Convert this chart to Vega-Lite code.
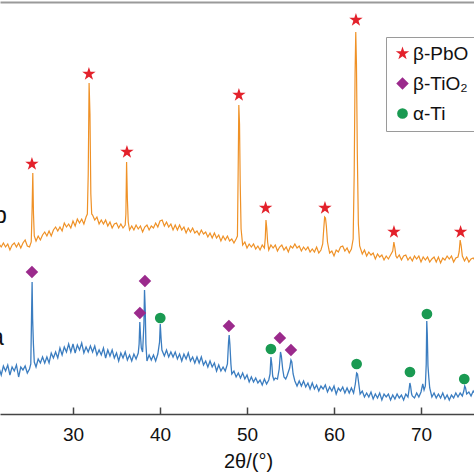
{
  "$schema": "https://vega.github.io/schema/vega-lite/v6.json",
  "width": 474,
  "height": 412,
  "autosize": "none",
  "padding": {"top": 2, "left": 0, "right": 0, "bottom": 60},
  "background": "white",
  "config": {
    "view": {"stroke": null},
    "font": "Liberation Sans",
    "text": {"font": "Liberation Sans"}
  },
  "datasets": {
    "curveB": [
      {"t":21.5,"i":170},{"t":21.75,"i":167},{"t":22.0,"i":171},{"t":22.25,"i":167},{"t":22.5,"i":170},{"t":22.75,"i":164},
      {"t":23.0,"i":169},{"t":23.25,"i":171},{"t":23.5,"i":167},{"t":23.75,"i":171},{"t":24.0,"i":166},{"t":24.25,"i":171},
      {"t":24.5,"i":174},{"t":24.75,"i":168},{"t":25.0,"i":167},{"t":25.2,"i":172},{"t":25.3,"i":205},{"t":25.38,"i":241},
      {"t":25.46,"i":200},{"t":25.55,"i":178},{"t":25.75,"i":173},{"t":26.0,"i":178},{"t":26.25,"i":174},{"t":26.5,"i":179},
      {"t":26.75,"i":182},{"t":27.0,"i":178},{"t":27.25,"i":183},{"t":27.5,"i":178},{"t":27.75,"i":184},{"t":28.0,"i":187},
      {"t":28.25,"i":183},{"t":28.5,"i":187},{"t":28.75,"i":183},{"t":29.0,"i":191},{"t":29.25,"i":187},{"t":29.5,"i":190},
      {"t":29.75,"i":186},{"t":30.0,"i":193},{"t":30.25,"i":188},{"t":30.5,"i":195},{"t":30.75,"i":191},{"t":31.0,"i":195},
      {"t":31.25,"i":190},{"t":31.5,"i":197},{"t":31.65,"i":200},{"t":31.75,"i":240},{"t":31.85,"i":331},{"t":31.95,"i":300},
      {"t":32.05,"i":220},{"t":32.15,"i":200},{"t":32.25,"i":199},{"t":32.5,"i":194},{"t":32.75,"i":197},{"t":33.0,"i":190},
      {"t":33.25,"i":194},{"t":33.5,"i":190},{"t":33.75,"i":194},{"t":34.0,"i":188},{"t":34.25,"i":192},{"t":34.5,"i":186},
      {"t":34.75,"i":190},{"t":35.0,"i":191},{"t":35.25,"i":186},{"t":35.5,"i":190},{"t":35.75,"i":186},{"t":36.0,"i":189},
      {"t":36.08,"i":200},{"t":36.16,"i":252},{"t":36.25,"i":215},{"t":36.35,"i":192},{"t":36.5,"i":184},{"t":36.75,"i":188},
      {"t":37.0,"i":184},{"t":37.25,"i":189},{"t":37.5,"i":185},{"t":37.75,"i":188},{"t":38.0,"i":182},{"t":38.25,"i":187},
      {"t":38.5,"i":189},{"t":38.75,"i":184},{"t":39.0,"i":188},{"t":39.25,"i":186},{"t":39.5,"i":191},{"t":39.75,"i":187},
      {"t":40.0,"i":193},{"t":40.25,"i":194},{"t":40.5,"i":188},{"t":40.75,"i":192},{"t":41.0,"i":187},{"t":41.25,"i":190},
      {"t":41.5,"i":184},{"t":41.75,"i":189},{"t":42.0,"i":184},{"t":42.25,"i":189},{"t":42.5,"i":184},{"t":42.75,"i":187},
      {"t":43.0,"i":181},{"t":43.25,"i":186},{"t":43.5,"i":182},{"t":43.75,"i":186},{"t":44.0,"i":181},{"t":44.25,"i":183},
      {"t":44.5,"i":179},{"t":44.75,"i":184},{"t":45.0,"i":180},{"t":45.25,"i":182},{"t":45.5,"i":177},{"t":45.75,"i":181},
      {"t":46.0,"i":176},{"t":46.25,"i":181},{"t":46.5,"i":176},{"t":46.75,"i":179},{"t":47.0,"i":173},{"t":47.25,"i":178},
      {"t":47.5,"i":174},{"t":47.75,"i":178},{"t":48.0,"i":173},{"t":48.25,"i":175},{"t":48.5,"i":171},{"t":48.75,"i":175},
      {"t":48.9,"i":178},{"t":48.98,"i":240},{"t":49.06,"i":309},{"t":49.14,"i":290},{"t":49.22,"i":230},{"t":49.32,"i":185},
      {"t":49.5,"i":169},{"t":49.75,"i":172},{"t":50.0,"i":166},{"t":50.25,"i":170},{"t":50.5,"i":167},{"t":50.75,"i":170},
      {"t":51.0,"i":165},{"t":51.25,"i":168},{"t":51.5,"i":164},{"t":51.75,"i":169},{"t":52.0,"i":166},{"t":52.1,"i":176},
      {"t":52.18,"i":194},{"t":52.27,"i":186},{"t":52.37,"i":172},{"t":52.5,"i":164},{"t":52.75,"i":169},{"t":53.0,"i":166},
      {"t":53.25,"i":169},{"t":53.5,"i":163},{"t":53.75,"i":167},{"t":54.0,"i":169},{"t":54.25,"i":164},{"t":54.5,"i":167},
      {"t":54.75,"i":162},{"t":55.0,"i":168},{"t":55.25,"i":166},{"t":55.5,"i":170},{"t":55.75,"i":166},{"t":56.0,"i":168},
      {"t":56.25,"i":163},{"t":56.5,"i":167},{"t":56.75,"i":164},{"t":57.0,"i":167},{"t":57.25,"i":162},{"t":57.5,"i":165},
      {"t":57.75,"i":162},{"t":58.0,"i":167},{"t":58.25,"i":161},{"t":58.5,"i":164},{"t":58.7,"i":170},{"t":58.82,"i":185},
      {"t":58.92,"i":197},{"t":59.02,"i":196},{"t":59.12,"i":188},{"t":59.25,"i":172},{"t":59.4,"i":165},{"t":59.5,"i":161},
      {"t":59.75,"i":163},{"t":60.0,"i":158},{"t":60.25,"i":164},{"t":60.5,"i":162},{"t":60.75,"i":167},{"t":61.0,"i":168},
      {"t":61.25,"i":163},{"t":61.5,"i":166},{"t":61.75,"i":161},{"t":62.0,"i":165},{"t":62.2,"i":175},{"t":62.32,"i":240},
      {"t":62.42,"i":340},{"t":62.5,"i":382},{"t":62.58,"i":350},{"t":62.68,"i":260},{"t":62.8,"i":190},{"t":62.95,"i":168},
      {"t":63.25,"i":160},{"t":63.5,"i":164},{"t":63.75,"i":158},{"t":64.0,"i":162},{"t":64.25,"i":159},{"t":64.5,"i":161},
      {"t":64.75,"i":155},{"t":65.0,"i":160},{"t":65.25,"i":157},{"t":65.5,"i":159},{"t":65.75,"i":154},{"t":66.0,"i":158},
      {"t":66.25,"i":155},{"t":66.5,"i":159},{"t":66.75,"i":163},{"t":66.88,"i":172},{"t":67.0,"i":166},{"t":67.12,"i":158},
      {"t":67.25,"i":156},{"t":67.5,"i":159},{"t":67.75,"i":154},{"t":68.0,"i":158},{"t":68.25,"i":159},{"t":68.5,"i":154},
      {"t":68.75,"i":157},{"t":69.0,"i":153},{"t":69.25,"i":158},{"t":69.5,"i":155},{"t":69.75,"i":158},{"t":70.0,"i":152},
      {"t":70.25,"i":157},{"t":70.5,"i":154},{"t":70.75,"i":157},{"t":71.0,"i":152},{"t":71.25,"i":155},{"t":71.5,"i":157},
      {"t":71.75,"i":152},{"t":72.0,"i":157},{"t":72.25,"i":151},{"t":72.5,"i":156},{"t":72.75,"i":154},{"t":73.0,"i":158},
      {"t":73.25,"i":155},{"t":73.5,"i":158},{"t":73.75,"i":152},{"t":74.0,"i":156},{"t":74.25,"i":157},{"t":74.38,"i":162},
      {"t":74.5,"i":174},{"t":74.62,"i":168},{"t":74.75,"i":158},{"t":75.0,"i":153},{"t":75.25,"i":157},{"t":75.5,"i":152},
      {"t":75.75,"i":155},{"t":76.0,"i":156},{"t":76.25,"i":153}
    ],
    "curveA": [
      {"t":21.5,"i":46},{"t":21.75,"i":39},{"t":22.0,"i":48},{"t":22.25,"i":43},{"t":22.5,"i":49},{"t":22.75,"i":39},
      {"t":23.0,"i":47},{"t":23.25,"i":43},{"t":23.5,"i":49},{"t":23.75,"i":37},{"t":24.0,"i":47},{"t":24.25,"i":44},
      {"t":24.5,"i":48},{"t":24.75,"i":41},{"t":25.0,"i":45},{"t":25.15,"i":50},{"t":25.24,"i":100},{"t":25.3,"i":132},
      {"t":25.36,"i":95},{"t":25.45,"i":70},{"t":25.55,"i":52},{"t":25.75,"i":47},{"t":26.0,"i":55},{"t":26.25,"i":51},
      {"t":26.5,"i":57},{"t":26.75,"i":51},{"t":27.0,"i":57},{"t":27.25,"i":51},{"t":27.5,"i":61},{"t":27.75,"i":56},
      {"t":28.0,"i":62},{"t":28.25,"i":56},{"t":28.5,"i":66},{"t":28.75,"i":59},{"t":29.0,"i":67},{"t":29.25,"i":62},
      {"t":29.5,"i":70},{"t":29.75,"i":62},{"t":30.0,"i":70},{"t":30.25,"i":61},{"t":30.5,"i":69},{"t":30.75,"i":64},
      {"t":31.0,"i":71},{"t":31.25,"i":61},{"t":31.5,"i":67},{"t":31.75,"i":62},{"t":32.0,"i":68},{"t":32.25,"i":62},
      {"t":32.5,"i":68},{"t":32.75,"i":59},{"t":33.0,"i":64},{"t":33.25,"i":59},{"t":33.5,"i":66},{"t":33.75,"i":56},
      {"t":34.0,"i":64},{"t":34.25,"i":58},{"t":34.5,"i":64},{"t":34.75,"i":56},{"t":35.0,"i":61},{"t":35.25,"i":53},
      {"t":35.5,"i":61},{"t":35.75,"i":56},{"t":36.0,"i":62},{"t":36.25,"i":54},{"t":36.5,"i":59},{"t":36.75,"i":53},
      {"t":37.0,"i":60},{"t":37.25,"i":55},{"t":37.5,"i":61},{"t":37.6,"i":70},{"t":37.68,"i":92},{"t":37.76,"i":78},
      {"t":37.85,"i":66},{"t":38.0,"i":62},{"t":38.15,"i":90},{"t":38.22,"i":124},{"t":38.3,"i":105},{"t":38.38,"i":70},
      {"t":38.5,"i":53},{"t":38.75,"i":59},{"t":39.0,"i":54},{"t":39.25,"i":59},{"t":39.5,"i":53},{"t":39.75,"i":60},
      {"t":39.95,"i":72},{"t":40.03,"i":90},{"t":40.12,"i":76},{"t":40.22,"i":64},{"t":40.5,"i":58},{"t":40.75,"i":64},
      {"t":41.0,"i":57},{"t":41.25,"i":62},{"t":41.5,"i":57},{"t":41.75,"i":62},{"t":42.0,"i":55},{"t":42.25,"i":60},
      {"t":42.5,"i":53},{"t":42.75,"i":60},{"t":43.0,"i":55},{"t":43.25,"i":61},{"t":43.5,"i":53},{"t":43.75,"i":57},
      {"t":44.0,"i":51},{"t":44.25,"i":57},{"t":44.5,"i":51},{"t":44.75,"i":57},{"t":45.0,"i":49},{"t":45.25,"i":53},
      {"t":45.5,"i":47},{"t":45.75,"i":53},{"t":46.0,"i":47},{"t":46.25,"i":51},{"t":46.5,"i":43},{"t":46.75,"i":49},
      {"t":47.0,"i":43},{"t":47.25,"i":47},{"t":47.5,"i":43},{"t":47.75,"i":50},{"t":47.88,"i":72},{"t":47.95,"i":79},
      {"t":48.03,"i":70},{"t":48.15,"i":50},{"t":48.25,"i":40},{"t":48.5,"i":43},{"t":48.75,"i":37},{"t":49.0,"i":41},
      {"t":49.25,"i":36},{"t":49.5,"i":41},{"t":49.75,"i":35},{"t":50.0,"i":39},{"t":50.25,"i":32},{"t":50.5,"i":37},
      {"t":50.75,"i":32},{"t":51.0,"i":36},{"t":51.25,"i":31},{"t":51.5,"i":34},{"t":51.75,"i":29},{"t":52.0,"i":35},
      {"t":52.25,"i":30},{"t":52.5,"i":34},{"t":52.65,"i":40},{"t":52.75,"i":57},{"t":52.85,"i":50},{"t":52.95,"i":38},
      {"t":53.1,"i":34},{"t":53.25,"i":36},{"t":53.5,"i":35},{"t":53.7,"i":45},{"t":53.85,"i":62},{"t":53.95,"i":58},
      {"t":54.1,"i":45},{"t":54.25,"i":37},{"t":54.45,"i":35},{"t":54.6,"i":38},{"t":54.9,"i":46},{"t":55.05,"i":54},
      {"t":55.15,"i":52},{"t":55.3,"i":40},{"t":55.5,"i":33},{"t":55.75,"i":28},{"t":56.0,"i":33},{"t":56.25,"i":28},
      {"t":56.5,"i":33},{"t":56.75,"i":27},{"t":57.0,"i":31},{"t":57.25,"i":25},{"t":57.5,"i":31},{"t":57.75,"i":25},
      {"t":58.0,"i":29},{"t":58.25,"i":23},{"t":58.5,"i":28},{"t":58.75,"i":25},{"t":59.0,"i":29},{"t":59.25,"i":22},
      {"t":59.5,"i":27},{"t":59.75,"i":23},{"t":60.0,"i":28},{"t":60.25,"i":20},{"t":60.5,"i":26},{"t":60.75,"i":23},
      {"t":61.0,"i":27},{"t":61.25,"i":21},{"t":61.5,"i":26},{"t":61.75,"i":21},{"t":62.0,"i":26},{"t":62.25,"i":21},
      {"t":62.45,"i":30},{"t":62.6,"i":41},{"t":62.7,"i":40},{"t":62.85,"i":30},{"t":63.0,"i":20},{"t":63.25,"i":23},
      {"t":63.5,"i":17},{"t":63.75,"i":21},{"t":64.0,"i":17},{"t":64.25,"i":22},{"t":64.5,"i":15},{"t":64.75,"i":20},
      {"t":65.0,"i":16},{"t":65.25,"i":21},{"t":65.5,"i":14},{"t":65.75,"i":20},{"t":66.0,"i":17},{"t":66.25,"i":20},
      {"t":66.5,"i":14},{"t":66.75,"i":19},{"t":67.0,"i":15},{"t":67.25,"i":20},{"t":67.5,"i":16},{"t":67.75,"i":19},
      {"t":68.0,"i":14},{"t":68.25,"i":20},{"t":68.5,"i":17},{"t":68.62,"i":24},{"t":68.72,"i":31},{"t":68.8,"i":28},
      {"t":68.92,"i":20},{"t":69.0,"i":18},{"t":69.25,"i":16},{"t":69.5,"i":21},{"t":69.75,"i":17},{"t":70.0,"i":22},
      {"t":70.2,"i":30},{"t":70.35,"i":24},{"t":70.5,"i":28},{"t":70.6,"i":50},{"t":70.66,"i":93},{"t":70.72,"i":80},
      {"t":70.8,"i":48},{"t":70.9,"i":36},{"t":71.0,"i":26},{"t":71.25,"i":17},{"t":71.5,"i":21},{"t":71.75,"i":16},
      {"t":72.0,"i":20},{"t":72.25,"i":16},{"t":72.5,"i":21},{"t":72.75,"i":15},{"t":73.0,"i":19},{"t":73.25,"i":14},
      {"t":73.5,"i":19},{"t":73.75,"i":16},{"t":74.0,"i":21},{"t":74.25,"i":17},{"t":74.5,"i":21},{"t":74.75,"i":18},
      {"t":74.92,"i":23},{"t":75.02,"i":28},{"t":75.12,"i":26},{"t":75.25,"i":20},{"t":75.5,"i":22},{"t":75.75,"i":18},
      {"t":76.0,"i":23},{"t":76.25,"i":20}
    ],
    "phases": [
      {"t":25.28,"i":250,"p":"β-PbO"},{"t":31.83,"i":340,"p":"β-PbO"},{"t":36.2,"i":262,"p":"β-PbO"},
      {"t":49.07,"i":319,"p":"β-PbO"},{"t":52.14,"i":206,"p":"β-PbO"},{"t":58.96,"i":206,"p":"β-PbO"},
      {"t":62.52,"i":394,"p":"β-PbO"},{"t":66.89,"i":182,"p":"β-PbO"},{"t":74.55,"i":182,"p":"β-PbO"},
      {"t":25.28,"i":142,"p":"β-TiO₂"},{"t":37.69,"i":101,"p":"β-TiO₂"},{"t":38.27,"i":133,"p":"β-TiO₂"},
      {"t":47.92,"i":88,"p":"β-TiO₂"},{"t":53.78,"i":76,"p":"β-TiO₂"},{"t":55.05,"i":64,"p":"β-TiO₂"},
      {"t":40.03,"i":96,"p":"α-Ti"},{"t":52.75,"i":65,"p":"α-Ti"},{"t":62.6,"i":50,"p":"α-Ti"},
      {"t":68.73,"i":42,"p":"α-Ti"},{"t":70.68,"i":100,"p":"α-Ti"},{"t":74.97,"i":35,"p":"α-Ti"}
    ],
    "names": [
      {"t":22.4,"i":191,"lab":"b"},
      {"t":22.06,"i":69,"lab":"a"}
    ]
  },
  "resolve": {"axis": {"x": "independent"}},
  "layer": [
    {
      "data": {"name": "curveB"},
      "mark": {"type": "line", "color": "#EF9126", "strokeWidth": 1.2, "clip": true},
      "encoding": {
        "x": {
          "field": "t", "type": "quantitative",
          "scale": {"domain": [21.61, 76.09], "nice": false, "zero": false},
          "axis": {
            "values": [30, 40, 50, 60, 70],
            "grid": false,
            "tickSize": -7,
            "tickColor": "#444444",
            "tickWidth": 1.5,
            "domainColor": "#444444",
            "domainWidth": 1.5,
            "labelFont": "Liberation Sans",
            "labelFontSize": 19,
            "labelColor": "#111111",
            "labelBaseline": "alphabetic",
            "labelPadding": 33,
            "labelFlush": false,
            "title": "2θ/(°)",
            "titleFont": "Liberation Sans",
            "titleFontSize": 20,
            "titleFontWeight": "normal",
            "titleColor": "#111111",
            "titleX": 248,
            "titleY": 53,
            "titleAlign": "center",
            "titleBaseline": "alphabetic"
          }
        },
        "y": {
          "field": "i", "type": "quantitative",
          "scale": {"domain": [0, 412], "nice": false, "zero": false},
          "axis": null
        }
      }
    },
    {
      "data": {"name": "curveA"},
      "mark": {"type": "line", "color": "#3B7DC0", "strokeWidth": 1.3, "clip": true},
      "encoding": {
        "x": {"field": "t", "type": "quantitative", "axis": null},
        "y": {"field": "i", "type": "quantitative", "axis": null}
      }
    },
    {
      "data": {"name": "phases"},
      "mark": {"type": "point", "filled": true, "opacity": 1, "strokeWidth": 0},
      "encoding": {
        "x": {"field": "t", "type": "quantitative", "axis": null},
        "y": {"field": "i", "type": "quantitative", "axis": null},
        "shape": {
          "field": "p", "type": "nominal",
          "scale": {
            "domain": ["β-PbO", "β-TiO₂", "α-Ti"],
            "range": ["M0,-1L0.2245,-0.309L0.951,-0.309L0.3633,0.118L0.588,0.809L0,0.382L-0.588,0.809L-0.3633,0.118L-0.951,-0.309L-0.2245,-0.309Z", "diamond", "circle"]
          },
          "legend": {
            "title": null,
            "orient": "none",
            "legendX": 386,
            "legendY": 35,
            "padding": 7,
            "strokeColor": "#9a9a9a",
            "fillColor": "white",
            "labelFont": "Liberation Sans",
            "labelFontSize": 19,
            "labelColor": "#111111",
            "labelOffset": 1,
            "rowPadding": 10,
            "symbolStrokeWidth": 0,
            "symbolOpacity": 1
          }
        },
        "color": {
          "field": "p", "type": "nominal",
          "scale": {"domain": ["β-PbO", "β-TiO₂", "α-Ti"], "range": ["#E3212B", "#9B2A8C", "#1A9A52"]}
        },
        "size": {
          "field": "p", "type": "nominal",
          "scale": {"domain": ["β-PbO", "β-TiO₂", "α-Ti"], "range": [200, 115, 75]}
        }
      }
    },
    {
      "data": {"name": "names"},
      "mark": {"type": "text", "align": "right", "baseline": "alphabetic", "fontSize": 23, "color": "#111111", "font": "Liberation Sans"},
      "encoding": {
        "x": {
          "field": "t", "type": "quantitative",
          "axis": {"orient": "top", "labels": false, "ticks": false, "grid": false, "title": null, "domainColor": "#9a9a9a", "domainWidth": 2}
        },
        "y": {"field": "i", "type": "quantitative", "axis": null},
        "text": {"field": "lab"}
      }
    }
  ]
}
